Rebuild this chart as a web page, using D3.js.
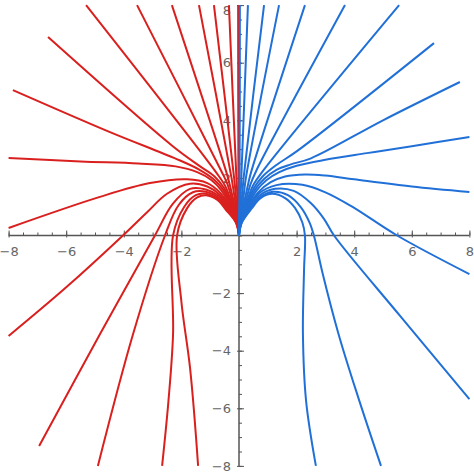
<!DOCTYPE html>
<html>
<head>
<meta charset="utf-8">
<script src="https://cdn.jsdelivr.net/npm/d3@7"></script>
<style>
  body { margin: 0; background: #fff; }
  .tick text { font-family: "DejaVu Sans", sans-serif; font-size: 13px; fill: #666; }
</style>
</head>
<body>
<div id="chart"></div>
<script>
// curves, [x, y] in data units, listed from the axis outwards

// red, going up
var redUp = [
  [[0,0],[-0.003,0.45],[-0.012,1.3],[-0.02,2.0],[-0.03,8]],
  [[0,0],[-0.006,0.45],[-0.05,1.3],[-0.09,2.0],[-0.35,8]],
  [[0,0],[-0.01,0.45],[-0.1,1.3],[-0.17,2.0],[-0.87,8]],
  [[0,0],[-0.015,0.45],[-0.15,1.3],[-0.26,2.0],[-1.39,8]],
  [[0,0],[-0.02,0.45],[-0.2,1.25],[-0.33,1.8],[-0.44,2.2],[-2.33,8]],
  [[0,0],[-0.025,0.45],[-0.24,1.22],[-0.4,1.78],[-0.62,2.25],[-3.54,8]],
  [[0,0],[-0.03,0.45],[-0.28,1.2],[-0.48,1.72],[-0.8,2.2],[-5.31,8]],
  [[0,0],[-0.035,0.45],[-0.31,1.18],[-0.52,1.65],[-0.85,2.05],[-1.35,2.4],[-2.3,3.1],[-6.63,6.89]],
  [[0,0],[-0.04,0.45],[-0.33,1.15],[-0.56,1.6],[-0.9,1.97],[-1.4,2.3],[-2.2,2.67],[-4.5,3.6],[-7.85,5.05]]
];

// red, levelling off to the left
var redSide = [
  [[0,0],[-0.05,0.45],[-0.35,1.12],[-0.6,1.55],[-0.95,1.92],[-1.45,2.2],[-2.2,2.4],[-3.5,2.5],[-5.5,2.57],[-8,2.69]],
  [[0,0],[-0.06,0.45],[-0.37,1.08],[-0.65,1.48],[-1.1,1.82],[-1.8,1.95],[-3.09,1.82],[-4.83,1.34],[-8,0.26]]
];

// red, arching over and going down
var redDown = [
  [[0,0],[-0.07,0.45],[-0.39,1.04],[-0.68,1.42],[-1.1,1.7],[-1.7,1.8],[-2.5,1.45],[-3.2,0.8],[-4.03,0],[-6,-1.8],[-8,-3.49]],
  [[0,0],[-0.08,0.45],[-0.41,1.0],[-0.7,1.37],[-1.15,1.6],[-1.7,1.62],[-2.3,1.1],[-2.92,0],[-4.83,-3.43],[-6.94,-7.31]],
  [[0,0],[-0.09,0.45],[-0.43,0.97],[-0.72,1.32],[-1.15,1.52],[-1.6,1.5],[-2.1,1.05],[-2.57,0],[-3.68,-3.43],[-4.9,-8]],
  [[0,0],[-0.1,0.45],[-0.45,0.94],[-0.74,1.28],[-1.15,1.45],[-1.5,1.4],[-1.9,1.0],[-2.29,0],[-2.29,-3.43],[-2.45,-5.75],[-2.67,-8]],
  [[0,0],[-0.11,0.45],[-0.47,0.91],[-0.76,1.24],[-1.15,1.4],[-1.45,1.32],[-1.8,0.95],[-2.15,0],[-2.0,-2.3],[-1.7,-4.6],[-1.42,-8]]
];

// blue, going up
var blueUp = [
  [[0,0],[0.003,0.45],[0.012,1.3],[0.02,2.0],[0.03,8]],
  [[0,0],[0.006,0.45],[0.05,1.3],[0.08,2.0],[0.31,8]],
  [[0,0],[0.01,0.45],[0.1,1.3],[0.16,2.0],[0.87,8]],
  [[0,0],[0.015,0.45],[0.15,1.3],[0.24,2.0],[1.39,8]],
  [[0,0],[0.02,0.45],[0.2,1.25],[0.32,1.8],[0.42,2.2],[2.29,8]],
  [[0,0],[0.025,0.45],[0.24,1.22],[0.4,1.78],[0.6,2.25],[3.68,8]],
  [[0,0],[0.03,0.45],[0.28,1.2],[0.48,1.72],[0.8,2.2],[5.56,8]],
  [[0,0],[0.035,0.45],[0.31,1.18],[0.52,1.65],[0.82,2.05],[1.3,2.45],[2.0,2.92],[6.77,6.68]],
  [[0,0],[0.04,0.45],[0.33,1.15],[0.56,1.6],[0.88,1.97],[1.3,2.28],[1.8,2.47],[2.5,2.68],[5,4.0],[7.67,5.33]]
];

// blue, levelling off to the right
var blueSide = [
  [[0,0],[0.05,0.45],[0.35,1.12],[0.6,1.55],[0.95,1.92],[1.4,2.2],[2.0,2.42],[3.0,2.63],[4.44,2.86],[6,3.1],[8,3.42]],
  [[0,0],[0.06,0.45],[0.37,1.08],[0.65,1.48],[1.1,1.85],[1.6,2.05],[2.3,2.12],[3.0,2.08],[4,1.95],[6,1.7],[8,1.51]]
];

// blue, arching over and going down
var blueDown = [
  [[0,0],[0.07,0.45],[0.39,1.04],[0.68,1.45],[1.3,1.75],[2.2,1.76],[3.0,1.5],[3.9,1.02],[5.49,0],[8,-1.34]],
  [[0,0],[0.08,0.45],[0.41,1.0],[0.7,1.38],[1.25,1.62],[1.9,1.55],[2.5,1.12],[2.95,0.58],[3.3,0],[5.6,-2.8],[8,-5.68]],
  [[0,0],[0.09,0.45],[0.43,0.98],[0.72,1.33],[1.2,1.52],[1.7,1.4],[2.15,0.98],[2.45,0.45],[2.6,0],[2.9,-1.3],[3.45,-3.4],[4.1,-5.5],[4.93,-8]],
  [[0,0],[0.1,0.45],[0.45,0.95],[0.75,1.3],[1.15,1.45],[1.6,1.3],[1.95,0.95],[2.2,0.45],[2.29,0],[2.26,-1.15],[2.22,-3.43],[2.33,-5.75],[2.67,-8]]
];

var xTicks = [-8, -6, -4, -2, 2, 4, 6, 8];
var yTicks = [-8, -6, -4, -2, 2, 4, 6, 8];
var minorTicks = d3.range(-8, 8.01, 0.5);

var width = 474, height = 474;

var x = d3.scaleLinear().domain([-8, 8]).range([8.6, 469.4]);
var y = d3.scaleLinear().domain([-8, 8]).range([465.9, 5.1]);

var svg = d3.select("#chart").append("svg")
    .attr("width", width)
    .attr("height", height);

var line = d3.line()
    .x(function(d) { return x(d[0]); })
    .y(function(d) { return y(d[1]); })
    .curve(d3.curveCatmullRom.alpha(0.5));

function fmt(d) { return d < 0 ? "\u2212" + (-d) : d; }

// axes
var axisColor = "#555";

var gx = svg.append("g").attr("transform", "translate(0," + y(0) + ")");
gx.call(d3.axisTop(x).tickValues(minorTicks).tickSize(3).tickFormat(""));
gx.select(".domain").remove();
gx.selectAll("line").attr("stroke", axisColor);

var gxMajor = svg.append("g").attr("transform", "translate(0," + y(0) + ")");
gxMajor.call(d3.axisBottom(x).tickValues(xTicks).tickSize(2).tickPadding(9).tickFormat(fmt));
gxMajor.select(".domain").remove();
gxMajor.selectAll("line").attr("y1", -5).attr("stroke", axisColor);

var gy = svg.append("g").attr("transform", "translate(" + x(0) + ",0)");
gy.call(d3.axisRight(y).tickValues(minorTicks).tickSize(3).tickFormat(""));
gy.select(".domain").remove();
gy.selectAll("line").attr("stroke", axisColor);

var gyMajor = svg.append("g").attr("transform", "translate(" + x(0) + ",0)");
gyMajor.call(d3.axisLeft(y).tickValues(yTicks).tickSize(2).tickPadding(6).tickFormat(fmt));
gyMajor.select(".domain").remove();
gyMajor.selectAll("line").attr("x1", 5).attr("stroke", axisColor);
// keep the top label inside the picture
gyMajor.selectAll(".tick text")
    .filter(function(d) { return d === 8; })
    .attr("dy", "0.75em");

svg.append("line")
    .attr("x1", x(-8)).attr("x2", x(8))
    .attr("y1", y(0)).attr("y2", y(0))
    .attr("stroke", axisColor).attr("stroke-width", 1.5);
svg.append("line")
    .attr("x1", x(0)).attr("x2", x(0))
    .attr("y1", y(8)).attr("y2", y(-8))
    .attr("stroke", axisColor).attr("stroke-width", 1.5);

// curves
var red = "#d9201e", blue = "#2070d8";

var curves = svg.append("g").attr("fill", "none").attr("stroke-width", 2);

curves.selectAll(".red")
    .data(redUp.concat(redSide, redDown))
  .enter().append("path")
    .attr("class", "red")
    .attr("d", line)
    .attr("stroke", red);

curves.selectAll(".blue")
    .data(blueUp.concat(blueSide, blueDown))
  .enter().append("path")
    .attr("class", "blue")
    .attr("d", line)
    .attr("stroke", blue);
</script>
</body>
</html>
